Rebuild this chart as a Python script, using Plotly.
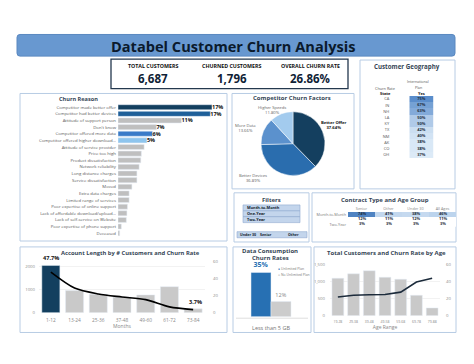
import plotly.graph_objects as go

# ---------------- data ----------------
kpi_labels = ["TOTAL CUSTOMERS", "CHURNED CUSTOMERS", "OVERALL CHURN RATE"]
kpi_values = ["6,687", "1,796", "26.86%"]

reasons = ["Competitor made better offer", "Competitor had better devices", "Attitude of support person",
           "Don't know", "Competitor offered more data", "Competitor offered higher download...",
           "Attitude of service provider", "Price too high", "Product dissatisfaction",
           "Network reliability", "Long distance charges", "Service dissatisfaction", "Moved",
           "Extra data charges", "Limited range of services", "Poor expertise of online support",
           "Lack of affordable download/upload...", "Lack of self-service on Website",
           "Poor expertise of phone support", "Deceased"]
reason_pct = [16.9, 16.6, 11.4, 6.9, 6.2, 5.2, 4.7, 4.2, 4.1, 3.8, 3.4, 3.4, 2.5, 2.0, 2.0, 1.7, 1.6, 1.5, 0.6, 0.3]
reason_labels = ["17%", "17%", "11%", "7%", "6%", "5%"] + [""] * 14

factor_names = ["Better Offer", "Better Devices", "More Data", "Higher Speeds"]
factor_pct = [37.64, 36.89, 13.66, 11.80]

geo_states = ["CA", "IN", "NH", "LA", "KY", "TX", "NM", "AK", "CO", "OH"]
geo_rate = [75, 67, 63, 50, 50, 42, 40, 38, 38, 37]

contract_types = ["Month-to-Month", "One-Year", "Two-Year"]
age_groups = ["Senior", "Other", "Under 30", "All Ages"]
contract_rate = [[74, 41, 38, 46], [12, 11, 12, 11], [3, 3, 3, 3]]

filter_contracts = ["Month-to-Month", "One-Year", "Two-Year"]
filter_groups = ["Under 30", "Senior", "Other"]

acct_bins = ["1-12", "13-24", "25-36", "37-48", "49-60", "61-72", "73-84"]
acct_customers = [2050, 960, 805, 680, 775, 1130, 170]
acct_churn = [47.7, 29.0, 22.1, 18.6, 15.5, 7.0, 3.7]

data_cat = ["Less than 5 GB"]
plan_names = ["Unlimited Plan", "No Unlimited Plan"]
unlimited_rate = [35]
no_unlimited_rate = [12]

age_bins = ["19-28", "29-38", "39-48", "49-58", "59-68", "69-78", "79-88"]
age_customers = [1100, 1230, 1320, 1130, 1070, 600, 230]
age_churn = [22.0, 24.0, 24.6, 25.0, 27.7, 39.5, 44.0]

# ---------------- helpers ----------------
W, H = 474, 364
FONT = "Open Sans"
TITLE_C = "#354555"


def px(x):
    return x / W


def py(y):
    return 1 - y / H


def dom_x(a, b):
    return [px(a), px(b)]


def dom_y(top, bottom):
    return [py(bottom), py(top)]


annotations = []
shapes = []


def note(x, y, text, size=5, color="#444", bold=False, xanchor="center", **kw):
    annotations.append(dict(x=px(x), y=py(y), xref="paper", yref="paper", text=text, showarrow=False,
                            xanchor=xanchor, yanchor="middle",
                            font=dict(family=FONT, size=size, color=color, weight="bold" if bold else "normal"),
                            **kw))


def rect(x0, y0, x1, y1, line="#B8CCE4", fill="white", width=1):
    shapes.append(dict(type="rect", xref="paper", yref="paper", x0=px(x0), x1=px(x1), y0=py(y1), y1=py(y0),
                       line=dict(color=line, width=width), fillcolor=fill, layer="below"))


def rounded(x0, y0, x1, y1, r, fill, line):
    pts = lambda x, y: f"{px(x)},{py(y)}"
    path = (f"M {pts(x0 + r, y0)} L {pts(x1 - r, y0)} Q {pts(x1, y0)} {pts(x1, y0 + r)} "
            f"L {pts(x1, y1 - r)} Q {pts(x1, y1)} {pts(x1 - r, y1)} L {pts(x0 + r, y1)} "
            f"Q {pts(x0, y1)} {pts(x0, y1 - r)} L {pts(x0, y0 + r)} Q {pts(x0, y0)} {pts(x0 + r, y0)} Z")
    shapes.append(dict(type="path", xref="paper", yref="paper", path=path, fillcolor=fill,
                       line=dict(color=line, width=1), layer="below"))


# ---------------- frame ----------------
rounded(17, 32, 455, 54, 3, "#6898D0", "#5A88C0")
note(233, 43.5, "Databel Customer Churn Analysis", size=14.6, color="#0B1A2C", bold=True)

rect(111, 57, 348, 87, line="#24384E", width=1.3)
for lab, val, cx in zip(kpi_labels, kpi_values, [153, 232, 310]):
    note(cx, 64, lab, size=5.3, color="#111", bold=True)
    note(cx, 76.5, val, size=11.5, color="#0F2236", bold=True)

panels = [(20, 92, 227, 242), (20, 248, 227, 335), (232, 92, 354, 189), (360, 58, 455, 189),
          (234, 193, 309, 243), (312, 193, 456, 243), (233, 248, 311, 335), (314, 248, 456, 335)]
for p in panels:
    rect(*p)

note(78, 97.3, "Churn Reason", size=5.6, color=TITLE_C, bold=True)
note(130, 254, "Account Length by # Customers and Churn Rate", size=5.8, color=TITLE_C, bold=True)
note(292, 97, "Competitor Churn Factors", size=6, color=TITLE_C, bold=True)
note(407, 65, "Customer Geography", size=6.2, color=TITLE_C, bold=True)
note(271, 200, "Filters", size=6, color=TITLE_C, bold=True)
note(385, 200, "Contract Type and Age Group", size=6, color=TITLE_C, bold=True)
note(270, 252.5, "Data Consumption", size=6, color=TITLE_C, bold=True)
note(270, 259.5, "Churn Rates", size=6, color=TITLE_C, bold=True)
note(386, 254, "Total Customers and Churn Rate by Age", size=6, color=TITLE_C, bold=True)

# geography headers
note(418, 80, "International", size=3.6, color="#555")
note(418, 86, "Plan", size=3.6, color="#555")
note(385, 86.5, "Churn Rate", size=3.8, color="#555")
note(385, 92, "State", size=4, color="#222", bold=True)
note(421, 92, "Yes", size=4, color="#222", bold=True)

# filters slicer
for i, lab in enumerate(filter_contracts):
    y0 = 205.3 + i * 6
    shapes.append(dict(type="rect", xref="paper", yref="paper", x0=px(243), x1=px(300), y0=py(y0 + 6),
                       y1=py(y0), line=dict(color="#8FAAD0", width=0.6), fillcolor="#C3D5EC"))
    note(245, y0 + 3, lab, size=3.9, color="#0E1B2B", bold=True, xanchor="left")
shapes.append(dict(type="rect", xref="paper", yref="paper", x0=px(237), x1=px(307), y0=py(238.7),
                   y1=py(232.5), line=dict(color="#8FAAD0", width=0.6), fillcolor="#C3D5EC"))
for lab, x in zip(filter_groups, [238, 258, 286]):
    note(x, 235.6, lab, size=3.6, color="#0E1B2B", bold=True, xanchor="left")

# pie labels
label_pos = [(333, 124, True), (253, 178, False), (245.5, 127, False), (272, 108.5, False)]
for name, pct, (x, y, b) in zip(factor_names, factor_pct, label_pos):
    note(x, y, f"{name}<br>{pct:.2f}%", size=4.2, color="#111" if b else "#666", bold=b)

# data consumption legend
note(276, 270, f"<span style='color:#2770B3'>●</span> {plan_names[0]}", size=3.4, color="#777", xanchor="left")
note(276, 276, f"<span style='color:#C8C8C8'>●</span> {plan_names[1]}", size=3.4, color="#777", xanchor="left")
shapes.append(dict(type="line", xref="paper", yref="paper", x0=px(236), x1=px(308), y0=py(320.5),
                   y1=py(320.5), line=dict(color="#D5D5D5", width=0.8)))

# ---------------- traces ----------------
reason_colors = ["#133F5F", "#1E5F99", "#BFBFBF", "#BFBFBF", "#3A7BC8", "#8EC5EE"] + ["#BFBFBF"] * 14
traces = [
    go.Bar(x=reason_pct, y=reasons, orientation="h", xaxis="x", yaxis="y", marker_color=reason_colors,
           width=0.76, text=reason_labels, textposition="outside", constraintext="none", cliponaxis=False,
           textfont=dict(family=FONT, size=5.5, color="#111", weight="bold")),
    go.Bar(x=acct_bins, y=acct_customers, xaxis="x2", yaxis="y2",
           marker_color=["#133F5F"] + ["#C9C9C9"] * 6, width=0.76),
    go.Scatter(x=acct_bins, y=acct_churn, xaxis="x2", yaxis="y3", mode="lines",
               line=dict(color="black", width=1.6, shape="spline", smoothing=0.8)),
    go.Bar(x=data_cat, y=unlimited_rate, xaxis="x4", yaxis="y4", width=0.4, offset=-0.4,
           marker_color="#2770B3", text=[f"{v}%" for v in unlimited_rate], textposition="outside",
           constraintext="none", cliponaxis=False,
           textfont=dict(family=FONT, size=7, color="#2770B3", weight="bold")),
    go.Bar(x=data_cat, y=no_unlimited_rate, xaxis="x4", yaxis="y4", width=0.4, offset=0.0,
           marker_color="#CCCCCC", text=[f"{v}%" for v in no_unlimited_rate], textposition="outside",
           constraintext="none", cliponaxis=False,
           textfont=dict(family=FONT, size=5.5, color="#888")),
    go.Bar(x=age_bins, y=age_customers, xaxis="x5", yaxis="y5", marker_color="#C9C9C9", width=0.75),
    go.Scatter(x=age_bins, y=age_churn, xaxis="x5", yaxis="y6", mode="lines",
               line=dict(color="#1C2B3B", width=1.6)),
    go.Pie(values=factor_pct, labels=factor_names, sort=False, direction="clockwise", rotation=0,
           domain=dict(x=dom_x(260.5, 325.5), y=dom_y(110.5, 175.5)), textinfo="none",
           marker=dict(colors=["#143F5F", "#2A6DAE", "#5B91CD", "#A3CBEE"], line=dict(color="white", width=0.5))),
    go.Heatmap(z=[[v] for v in geo_rate], x=["Yes"], y=geo_states, xaxis="x7", yaxis="y7",
               colorscale=[[0, "#DCEAF7"], [1, "#5A8DCB"]], zmin=37, zmax=75, showscale=False,
               texttemplate="%{z}%", textfont=dict(family=FONT, size=4, color="#1B2A3A", weight="bold")),
    go.Heatmap(z=contract_rate, x=age_groups, y=contract_types, xaxis="x8", yaxis="y8",
               colorscale=[[0, "#FFFFFF"], [0.25, "#FFFFFF"], [0.5, "#C6DAEF"], [0.65, "#BAD2EC"], [1, "#4F83C2"]],
               zmin=0, zmax=74, showscale=False, texttemplate="%{z}%",
               textfont=dict(family=FONT, size=4, color="#1B2A3A", weight="bold")),
]
fig = go.Figure(traces)

# annotation labels on account chart
annotations.append(dict(x=acct_bins[0], y=acct_customers[0], xref="x2", yref="y2",
                        text=f"{acct_churn[0]}%", showarrow=False, yanchor="bottom", yshift=1,
                        font=dict(family=FONT, size=5.6, color="#111", weight="bold")))
annotations.append(dict(x=acct_bins[-1], y=acct_churn[-1], xref="x2", yref="y3",
                        text=f"{acct_churn[-1]}%", showarrow=False, yanchor="bottom", yshift=2, xshift=2,
                        font=dict(family=FONT, size=5.6, color="#111", weight="bold")))

tick_small = dict(family=FONT, size=4.3, color="#8A8A8A")
fig.update_layout(
    width=W, height=H, margin=dict(l=0, r=0, t=0, b=0, pad=0),
    paper_bgcolor="white", plot_bgcolor="rgba(0,0,0,0)", showlegend=False,
    font=dict(family=FONT), barmode="group",
    shapes=shapes, annotations=annotations,
    xaxis=dict(domain=dom_x(118, 212), range=[0, 16.9], visible=False, anchor="y"),
    yaxis=dict(domain=dom_y(102.6, 237.4), categoryorder="array", categoryarray=reasons, autorange="reversed",
               tickfont=dict(family=FONT, size=4.3, color="#5A5A5A"), showgrid=False, ticks="",
               ticklabelstandoff=1, anchor="x", showline=False, zeroline=False),
    xaxis2=dict(domain=dom_x(39, 205), anchor="y2", tickfont=dict(family=FONT, size=4.8, color="#888"),
                ticks="", ticklabelstandoff=3, showline=False,
                title=dict(text="Months", font=dict(family=FONT, size=5, color="#888"), standoff=1)),
    yaxis2=dict(domain=dom_y(263, 315), range=[0, 2212], tickvals=[0, 1000, 2000], tickfont=tick_small,
                gridcolor="#F2F2F2", zeroline=False, anchor="x2", ticklabelstandoff=3),
    yaxis3=dict(overlaying="y2", side="right", anchor="x2", range=[0, 60], tickvals=[0, 20, 40, 60],
                ticksuffix="%", showgrid=False, zeroline=False, tickfont=tick_small, ticklabelstandoff=7),
    xaxis4=dict(domain=dom_x(246, 296), anchor="y4", tickfont=dict(family=FONT, size=5.5, color="#777"),
                ticks="", ticklabelstandoff=7, showline=False),
    yaxis4=dict(domain=dom_y(269, 319), range=[0, 38.9], visible=False, anchor="x4"),
    xaxis5=dict(domain=dom_x(330, 440), anchor="y5", tickfont=dict(family=FONT, size=3.4, color="#888"),
                ticks="", ticklabelstandoff=3,
                title=dict(text="Age Range", font=dict(family=FONT, size=5, color="#888"), standoff=1)),
    yaxis5=dict(domain=dom_y(266, 318), range=[0, 1500], tickvals=[0, 500, 1000, 1500], tickformat=",",
                tickfont=tick_small, gridcolor="#F2F2F2", zeroline=False, anchor="x5", ticklabelstandoff=4),
    yaxis6=dict(overlaying="y5", side="right", anchor="x5", range=[0, 60], tickvals=[0, 20, 40, 60],
                ticksuffix="%", showgrid=False, zeroline=False, tickfont=tick_small, ticklabelstandoff=5),
    xaxis7=dict(domain=dom_x(409.3, 433.7), anchor="y7", visible=False),
    yaxis7=dict(domain=dom_y(94.5, 157.5), anchor="x7", autorange="reversed", showgrid=False, ticks="",
                tickfont=dict(family=FONT, size=4, color="#555"), ticklabelstandoff=19, zeroline=False),
    xaxis8=dict(domain=dom_x(348, 456), anchor="y8", side="top", ticks="", showgrid=False,
                tickfont=dict(family=FONT, size=3.8, color="#888"), ticklabelstandoff=0),
    yaxis8=dict(domain=dom_y(212.5, 227.5), anchor="x8", autorange="reversed", showgrid=False, ticks="",
                tickfont=dict(family=FONT, size=3.8, color="#777"), ticklabelstandoff=1),
)

fig.write_html("out.html", config={"displayModeBar": False},
               post_script="document.body.style.margin='0px';document.body.style.overflow='hidden';")
